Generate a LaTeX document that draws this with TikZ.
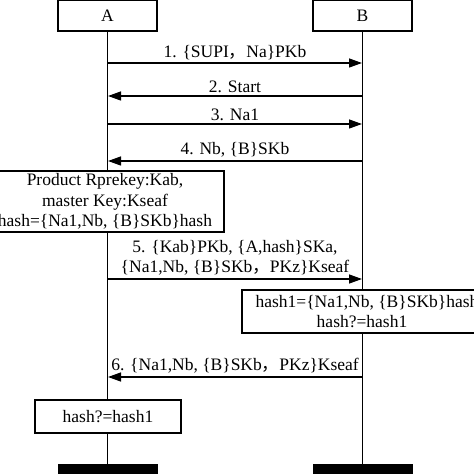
\documentclass[tikz,border=0pt]{standalone}
\usepackage{fontspec}
\setmainfont{Liberation Serif}
\newfontfamily\cjk{Noto Sans CJK SC}
\usetikzlibrary{arrows.meta}
\begin{document}
\begin{tikzpicture}[x=1pt,y=1pt,
  every node/.style={font=\fontsize{17.5}{20.5}\selectfont},
  ent/.style={draw,line width=1.3pt,minimum width=99pt,minimum height=31pt,inner sep=0pt},
  endbar/.style={fill=black,draw=black,minimum width=99pt,minimum height=20pt,inner sep=0pt},
  note/.style={draw,line width=1.3pt,fill=white,inner sep=0pt,align=center},
  life/.style={line width=1.3pt},
  msg/.style={line width=1.3pt,-{Triangle[length=13pt,width=9pt]}},
  lab/.style={above=2pt,align=center,inner sep=1pt}]
\useasboundingbox (0,0) rectangle (474,474);
\clip (0,0) rectangle (474,474);
% entities
\node[ent] (A) at (107.5,458.5) {A};
\node[ent] (B) at (362.5,458.5) {B};
\node[endbar] (Ae) at (107.5,0) {};
\node[endbar] (Be) at (362.5,0) {};
% lifelines
\draw[life] (A.south) -- (Ae.north);
\draw[life] (B.south) -- (Be.north);
% notes
\node[note,minimum width=238pt,minimum height=61pt] (N1) at (105,272.5)
  {Product Rprekey:Kab,\\master Key:Kseaf\\hash=\{Na1,Nb, \{B\}SKb\}hash};
\node[note,minimum width=240pt,minimum height=43pt] (N2) at (362,162.5)
  {\hspace*{10pt}hash1=\{Na1,Nb, \{B\}SKb\}hash\\hash?=hash1};
\node[note,minimum width=146pt,minimum height=33pt] (N3) at (108,57.5)
  {hash?=hash1};
% message coordinates
\coordinate (a1) at (108,411); \coordinate (b1) at (362,411);
\coordinate (a2) at (108,378); \coordinate (b2) at (362,378);
\coordinate (a3) at (108,350); \coordinate (b3) at (362,350);
\coordinate (a4) at (108,313); \coordinate (b4) at (362,313);
\coordinate (a5) at (108,195); \coordinate (b5) at (362,195);
\coordinate (a6) at (108,97);  \coordinate (b6) at (362,97);
% messages
\draw[msg] (a1) -- node[lab]{1. \{SUPI{\cjk ，}Na\}PKb} (b1);
\draw[msg] (b2) -- node[lab]{2. Start} (a2);
\draw[msg] (a3) -- node[lab]{3. Na1} (b3);
\draw[msg] (b4) -- node[lab]{4. Nb, \{B\}SKb} (a4);
\draw[msg] (a5) -- node[lab]{5. \{Kab\}PKb, \{A,hash\}SKa,\\\{Na1,Nb, \{B\}SKb{\cjk ，}PKz\}Kseaf} (b5);
\draw[msg] (b6) -- node[lab]{6. \{Na1,Nb, \{B\}SKb{\cjk ，}PKz\}Kseaf} (a6);
\end{tikzpicture}
\end{document}
